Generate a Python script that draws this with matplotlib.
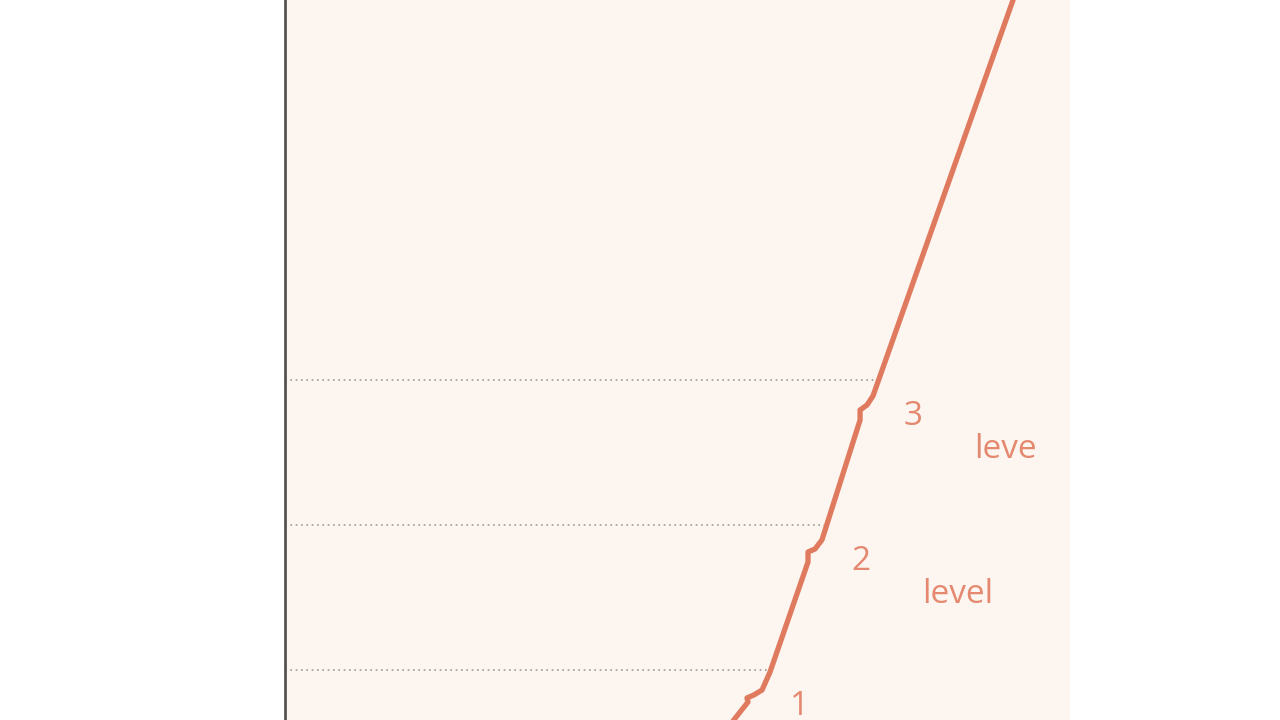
import numpy as np
import matplotlib.pyplot as plt

# path of the curve (x, y in "level" units)
curve_x = [3.014, 3.138, 3.193, 3.186, 3.234, 3.290, 3.345, 3.607, 3.607, 3.655,
           3.703, 3.966, 3.966, 4.014, 4.055, 5.021, 5.069]
curve_y = [0.552, 0.710, 0.779, 0.807, 0.828, 0.862, 0.986, 1.745, 1.814, 1.834,
           1.897, 2.724, 2.793, 2.828, 2.890, 5.621, 5.759]

levels = [1, 2, 3]
level_labels = ['1', '2', '3']
level_words = ['level', 'level', 'leve']
# points where the curve steps at each level
kink_x = [3.234, 3.655, 4.014]
kink_y = [0.828, 1.834, 2.828]

line_color = '#E07A5E'
text_color = '#E48970'
bg = '#FDF5EF'

fig = plt.figure(figsize=(12.8, 7.2), dpi=100)
ax = fig.add_axes([285 / 1280, 0, 785 / 1280, 1])
ax.set_facecolor(bg)
ax.set_xlim(0, 785 / 145)
ax.set_ylim(95 / 145, 815 / 145)

# dotted guide lines up to the curve
for lv in levels:
    xe = np.interp(lv, curve_y, curve_x)
    ax.plot([0, xe], [lv, lv], linestyle=(0, (1, 2.2)), color='#9a9a9a', lw=1.2)

ax.plot(curve_x, curve_y, color=line_color, lw=3.8, solid_joinstyle='round',
        solid_capstyle='round')

for kx, ky, lab, word in zip(kink_x, kink_y, level_labels, level_words):
    ax.annotate(lab, (kx, ky), xytext=(46, -12), textcoords='offset pixels',
                ha='center', va='center', fontsize=24, color=text_color,
                family='Open Sans')
    ax.annotate(word, (kx, ky), xytext=(107, -45), textcoords='offset pixels',
                ha='left', va='center', fontsize=24, color=text_color,
                family='Open Sans')

for s in ['top', 'right', 'bottom']:
    ax.spines[s].set_visible(False)
ax.spines['left'].set_color('#555555')
ax.spines['left'].set_linewidth(2)
ax.set_xticks([])
ax.set_yticks([])

fig.savefig('out.png', dpi=100, facecolor='white')
